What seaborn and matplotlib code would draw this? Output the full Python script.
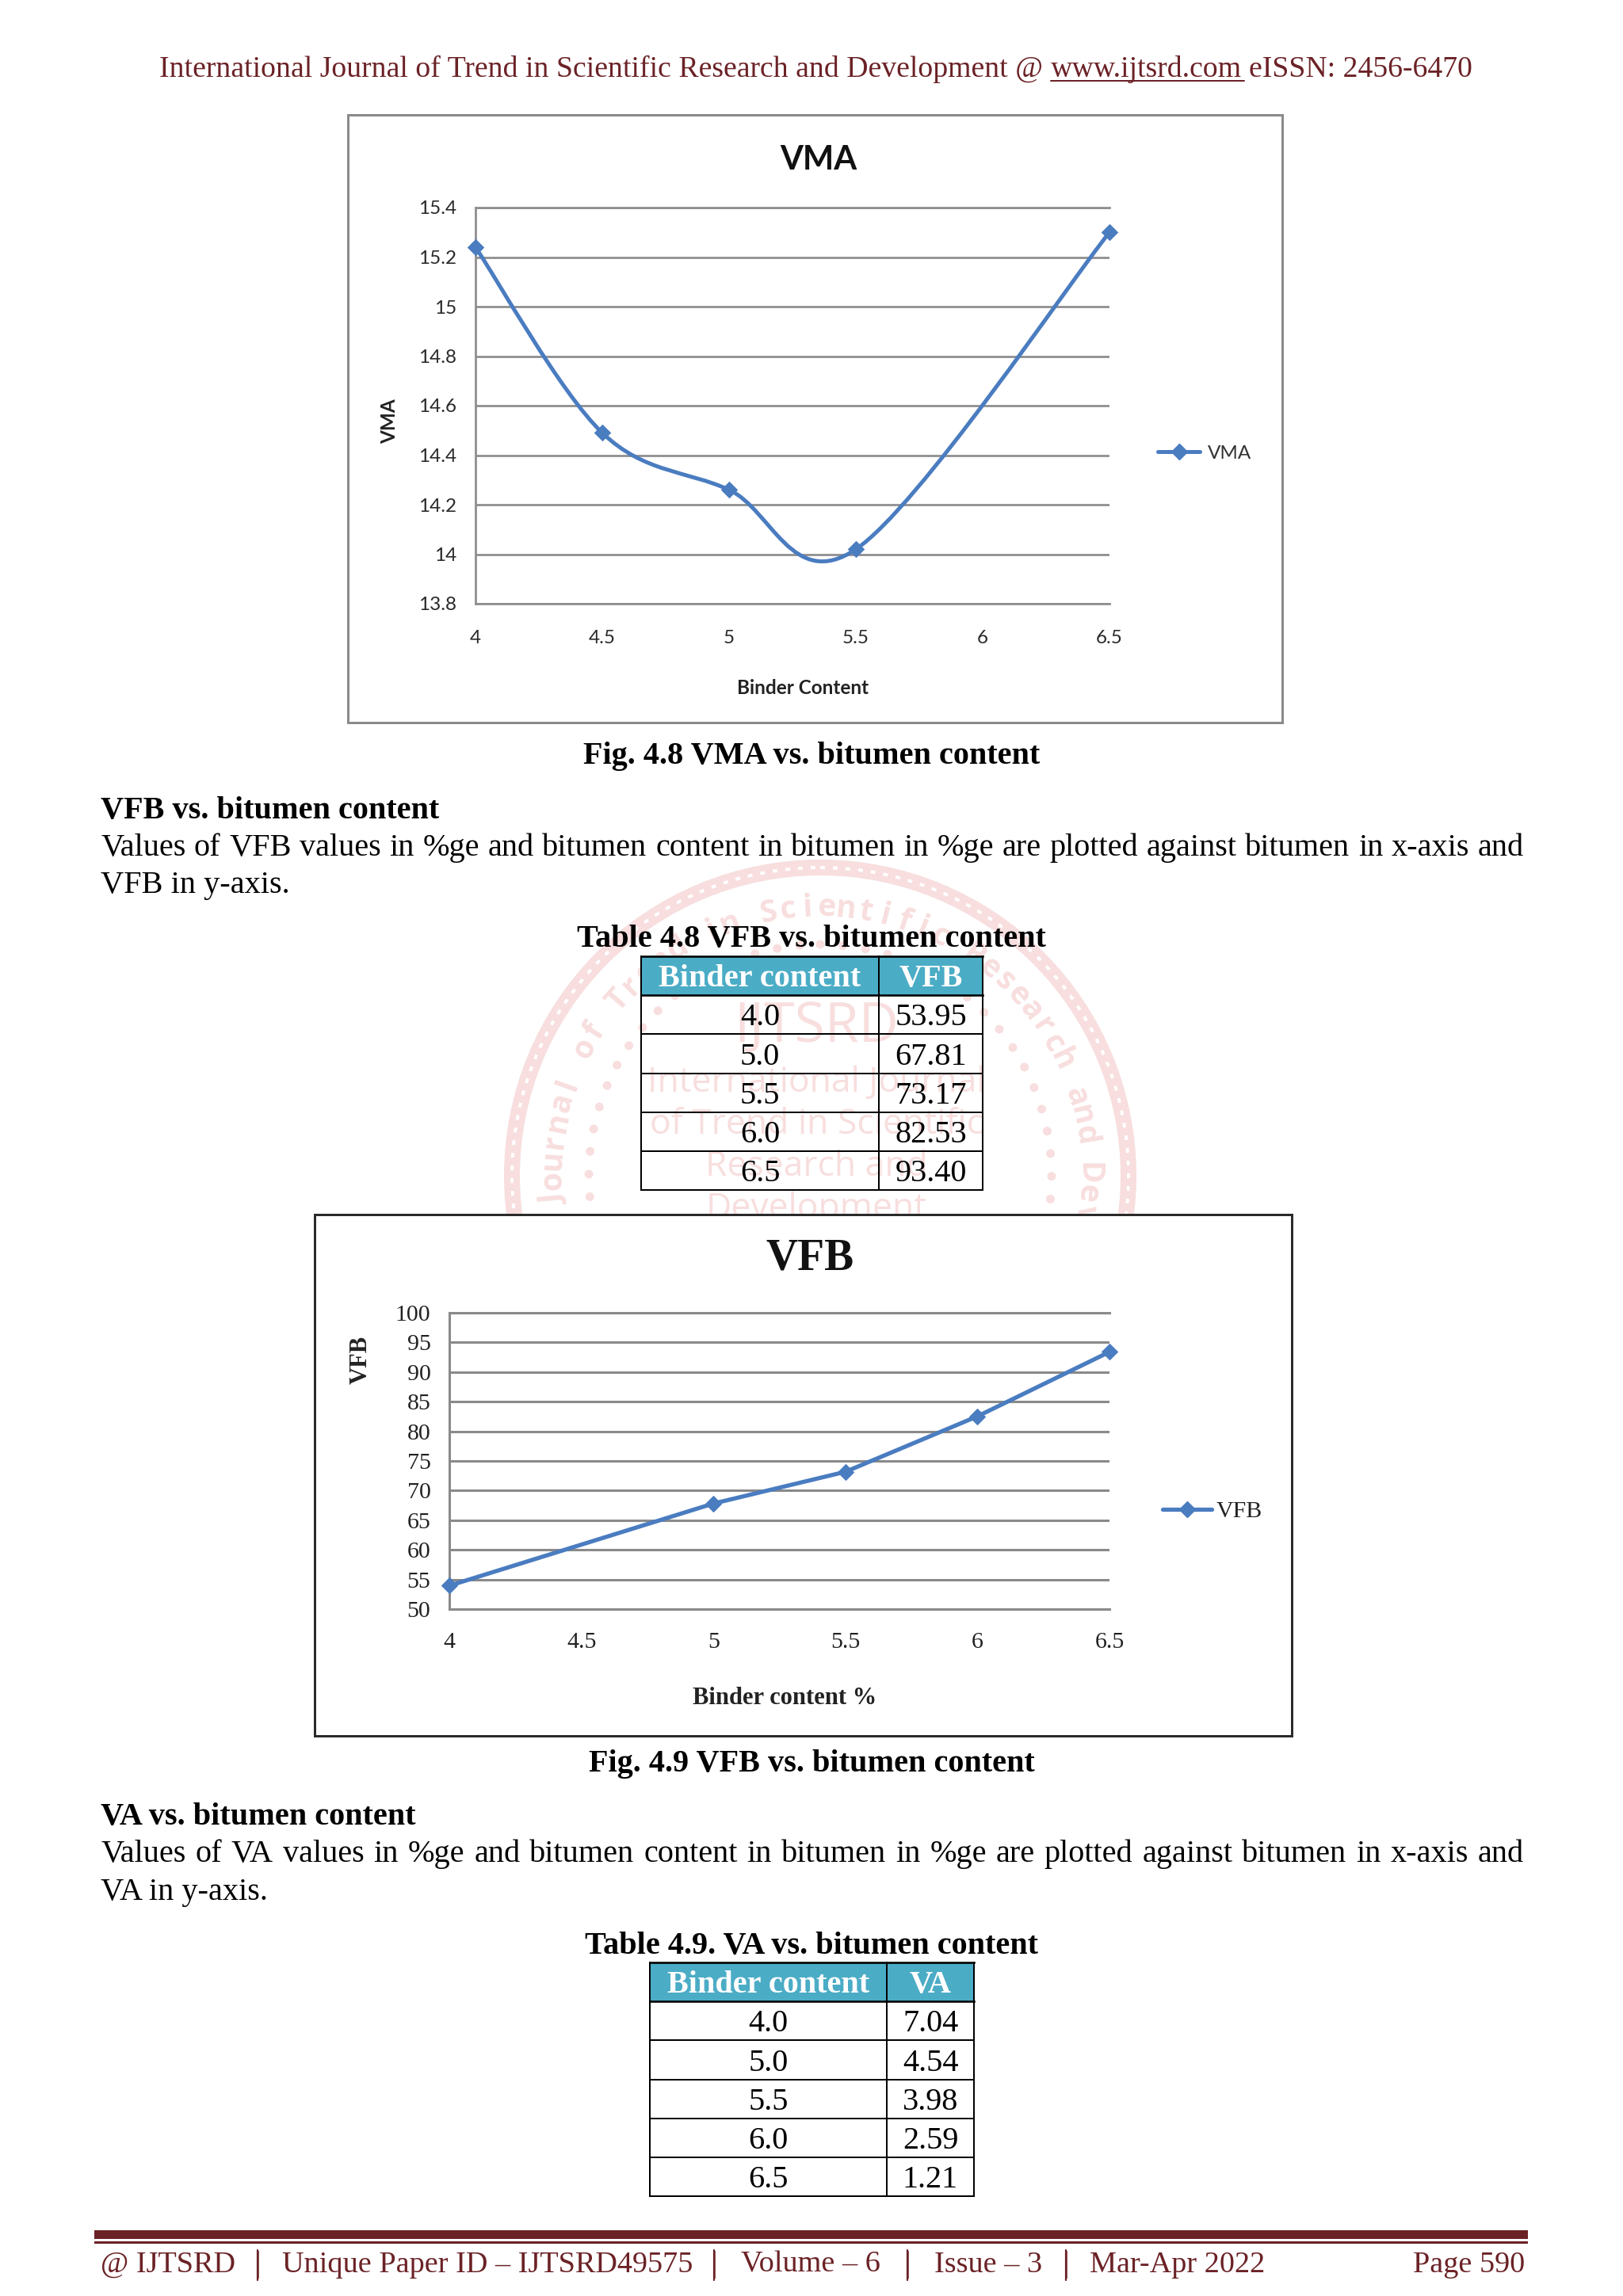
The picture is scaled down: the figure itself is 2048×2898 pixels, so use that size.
import numpy as np
import pandas as pd
import matplotlib
matplotlib.use("Agg")
import matplotlib.pyplot as plt
import seaborn as sns
from matplotlib.path import Path
from matplotlib.patches import PathPatch, Rectangle, Circle
from matplotlib.lines import Line2D

# ---------------- data ----------------
vma_binder = [4.0, 4.5, 5.0, 5.5, 6.5]
vma_values = [15.24, 14.49, 14.26, 14.02, 15.30]
vma_yticks = [13.8, 14.0, 14.2, 14.4, 14.6, 14.8, 15.0, 15.2, 15.4]
vma_ytick_labels = ["13.8", "14", "14.2", "14.4", "14.6", "14.8", "15", "15.2", "15.4"]

vfb_binder = [4.0, 5.0, 5.5, 6.0, 6.5]
vfb_values = [53.95, 67.81, 73.17, 82.53, 93.40]
vfb_yticks = [50, 55, 60, 65, 70, 75, 80, 85, 90, 95, 100]
vfb_ytick_labels = ["50", "55", "60", "65", "70", "75", "80", "85", "90", "95", "100"]

x_ticks = [4, 4.5, 5, 5.5, 6, 6.5]
x_tick_labels = ["4", "4.5", "5", "5.5", "6", "6.5"]

table_binder = ["4.0", "5.0", "5.5", "6.0", "6.5"]
table_vfb = ["53.95", "67.81", "73.17", "82.53", "93.40"]
table_va = ["7.04", "4.54", "3.98", "2.59", "1.21"]

# ---------------- setup ----------------
sns.set_theme(style="white")
plt.rcParams['font.family'] = ['Liberation Serif', 'DejaVu Sans']
W, H = 2048, 2898
PT = 0.72
fig = plt.figure(figsize=(W / 100, H / 100), dpi=100)
fig.patch.set_facecolor('white')
bg = fig.add_axes([0, 0, 1, 1], zorder=-10)
bg.set_xlim(0, W)
bg.set_ylim(H, 0)
bg.axis('off')

MAROON = '#6b2226'
BLUE = '#4a7cc0'
SERIF = 'Liberation Serif'


def px_axes(l, t, r, b):
    return fig.add_axes([l / W, 1 - b / H, (r - l) / W, (b - t) / H])


# ---------------- watermark ----------------
wm = '#f8dede'
cx, cy, R = 1035, 1484, 389
bg.add_patch(Circle((cx, cy), R, fill=False, ec=wm, lw=20 * PT, zorder=1))
bg.add_patch(Circle((cx, cy), R, fill=False, ec='white', lw=4 * PT,
                    ls=(0, (1.5, 2.5)), zorder=1.1))
bg.add_patch(Circle((cx, cy), 292, fill=False, ec=wm, lw=11 * PT,
                    ls=(0, (0.01, 2.6)), capstyle='round', zorder=1))
arc_text = "International Journal of Trend in Scientific Research and Development"
start_deg, step_deg, r_txt = 244.0, 4.2, 338
for i, ch in enumerate(arc_text):
    th = np.deg2rad(start_deg - i * step_deg)
    bg.text(cx + r_txt * np.cos(th), cy - r_txt * np.sin(th), ch,
            rotation=np.rad2deg(th) - 90, ha='center', va='center',
            fontsize=28, color=wm, family='Open Sans', weight='bold', zorder=1)
for txt, yy, fs in [("IJTSRD", 1297, 50), ("International Journal", 1367, 32),
                    ("of Trend in Scientific", 1420, 32), ("Research and", 1473, 32),
                    ("Development", 1526, 32)]:
    bg.text(1030, yy, txt, ha='center', va='center', fontsize=fs, color=wm,
            family='Open Sans', zorder=1)

# ---------------- page text ----------------
bg.text(1316, 97, "International Journal of Trend in Scientific Research and Development @",
        fontsize=27.2, color=MAROON, va='baseline', ha='right', family=SERIF, zorder=7)
bg.text(1326, 97, "www.ijtsrd.com", fontsize=27.2, color=MAROON, va='baseline',
        ha='left', family=SERIF, zorder=7)
bg.plot([1326, 1570], [102, 102], color=MAROON, lw=2 * PT, zorder=7)
bg.text(1576, 97, "eISSN: 2456-6470", fontsize=27.2, color=MAROON, va='baseline',
        ha='left', family=SERIF, zorder=7)

fig.canvas.draw()
renderer = fig.canvas.get_renderer()


def justified(line, x0, x1, y, **kw):
    words = line.split(' ')
    texts = [bg.text(x0, y, w, va='baseline', ha='left', zorder=7, **kw) for w in words]
    widths = [t.get_window_extent(renderer).width for t in texts]
    gap = (x1 - x0 - sum(widths)) / (len(words) - 1)
    x = x0
    for t, w in zip(texts, widths):
        t.set_x(x)
        x += w + gap


def line_text(x, y, s, ha='left', bold=False, size=29, color='black'):
    bg.text(x, y, s, ha=ha, va='baseline', fontsize=size, color=color,
            weight='bold' if bold else 'normal', family=SERIF, zorder=7)


line_text(1024, 964, "Fig. 4.8 VMA vs. bitumen content", ha='center', bold=True)
line_text(127, 1033, "VFB vs. bitumen content", bold=True)
justified("Values of VFB values in %ge and bitumen content in bitumen in %ge are plotted against bitumen in x-axis and",
          127, 1923, 1080, fontsize=29, family=SERIF, color='black')
line_text(127, 1127, "VFB in y-axis.")
line_text(1024, 1195, "Table 4.8 VFB vs. bitumen content", ha='center', bold=True)

line_text(1024, 2236, "Fig. 4.9 VFB vs. bitumen content", ha='center', bold=True)
line_text(127, 2303, "VA vs. bitumen content", bold=True)
justified("Values of VA values in %ge and bitumen content in bitumen in %ge are plotted against bitumen in x-axis and",
          127, 1923, 2350, fontsize=29, family=SERIF, color='black')
line_text(127, 2398, "VA in y-axis.")
line_text(1024, 2466, "Table 4.9. VA vs. bitumen content", ha='center', bold=True)

# footer
bg.add_patch(Rectangle((119, 2815), 1928 - 119, 11, fc=MAROON, ec='none', zorder=7))
bg.add_patch(Rectangle((119, 2829), 1928 - 119, 2.5, fc=MAROON, ec='none', zorder=7))
for x, s, ha in [(127, "@ IJTSRD", 'left'), (325, "|", 'center'),
                 (356, "Unique Paper ID \u2013 IJTSRD49575", 'left'), (901, "|", 'center'),
                 (935, "Volume \u2013 6", 'left'), (1145, "|", 'center'),
                 (1179, "Issue \u2013 3", 'left'), (1345, "|", 'center'),
                 (1375, "Mar-Apr 2022", 'left'), (1924, "Page 590", 'right')]:
    line_text(x, 2868, s, ha=ha, size=27.5, color=MAROON)
for x in (325, 901, 1145, 1345):
    bg.plot([x, x], [2840, 2878], color=MAROON, lw=2.2 * PT, zorder=7)


# ---------------- tables ----------------
def draw_table(xl, xm, xr, top, row_h, headers, col1, col2):
    n = len(col1)
    ys = [top + i * row_h for i in range(n + 2)]
    bg.add_patch(Rectangle((xl, ys[0]), xr - xl, ys[1] - ys[0], fc='#4bacc6',
                           ec='none', zorder=6))
    for i, y in enumerate(ys):
        bg.plot([xl, xr], [y, y], color='black', lw=(2.6 if i in (0, 1) else 2) * PT,
                zorder=7, solid_capstyle='projecting')
    for x in (xl, xm, xr):
        bg.plot([x, x], [ys[0], ys[-1]], color='black', lw=2 * PT, zorder=7,
                solid_capstyle='projecting')
    bg.text((xl + xm) / 2, ys[1] - 11, headers[0], ha='center', va='baseline',
            fontsize=29, color='white', weight='bold', family=SERIF, zorder=8)
    bg.text((xm + xr) / 2, ys[1] - 11, headers[1], ha='center', va='baseline',
            fontsize=29, color='white', weight='bold', family=SERIF, zorder=8)
    for i in range(n):
        yb = ys[i + 2] - 11
        bg.text((xl + xm) / 2, yb, col1[i], ha='center', va='baseline', fontsize=29,
                color='black', family=SERIF, zorder=8)
        bg.text((xm + xr) / 2, yb, col2[i], ha='center', va='baseline', fontsize=29,
                color='black', family=SERIF, zorder=8)


draw_table(809, 1109, 1240, 1207, 49.2, ["Binder content", "VFB"], table_binder, table_vfb)
draw_table(820, 1119, 1229, 2477, 49.2, ["Binder content", "VA"], table_binder, table_va)

# ---------------- chart boxes ----------------
bg.add_patch(Rectangle((439, 145), 1618 - 439, 912 - 145, fc='white', ec='#8a8a8a',
                       lw=3 * PT, zorder=5))
bg.add_patch(Rectangle((397, 1533), 1630 - 397, 2191 - 1533, fc='white', ec='#2b2b2b',
                       lw=3 * PT, zorder=5))


def smooth_path(xs, ys):
    P = np.column_stack([xs, ys]).astype(float)
    n = len(P)
    verts = [P[0]]
    codes = [Path.MOVETO]
    for i in range(n - 1):
        p0 = P[i - 1] if i > 0 else P[i]
        p1, p2 = P[i], P[i + 1]
        p3 = P[i + 2] if i + 2 < n else P[i + 1]
        verts += [p1 + (p2 - p0) / 6, p2 - (p3 - p1) / 6, p2]
        codes += [Path.CURVE4] * 3
    return Path(verts, codes)


def style_axes(ax, grid_color, lw):
    ax.set_facecolor('white')
    ax.yaxis.grid(True, color=grid_color, lw=lw)
    ax.xaxis.grid(False)
    for side in ('left', 'top', 'bottom'):
        ax.spines[side].set_visible(True)
        ax.spines[side].set_color(grid_color)
        ax.spines[side].set_linewidth(lw)
    ax.spines['right'].set_visible(False)


# ---------------- chart 1: VMA ----------------
ax1 = px_axes(600, 262, 1400, 762)
style_axes(ax1, '#8f8f8f', 2.0)
df1 = pd.DataFrame({'Binder Content': vma_binder, 'VMA': vma_values})
ax1.add_patch(PathPatch(smooth_path(df1['Binder Content'], df1['VMA']), fill=False,
                        ec=BLUE, lw=3.6, zorder=3, clip_on=False))
sns.scatterplot(data=df1, x='Binder Content', y='VMA', ax=ax1, marker='D', s=120,
                color=BLUE, edgecolor=BLUE, linewidth=0, zorder=4, clip_on=False)
ax1.set_xlim(4, 6.5)
ax1.set_ylim(13.8, 15.4)
ax1.set_xticks(x_ticks, labels=x_tick_labels, fontfamily='Lato', fontsize=17.5, color='#2a2a2a')
ax1.set_yticks(vma_yticks, labels=vma_ytick_labels, fontfamily='Lato', fontsize=17.5, color='#2a2a2a')
ax1.tick_params(axis='both', length=0)
ax1.tick_params(axis='y', pad=17)
ax1.tick_params(axis='x', pad=24)
ax1.set_xlabel('Binder Content', fontfamily='Lato', fontsize=17.5, weight='bold', color='#222222')
ax1.set_ylabel('VMA', fontfamily='Lato', fontsize=17.5, weight='bold', color='#222222')
ax1.xaxis.set_label_coords(0.516, -0.214)
ax1.xaxis.label.set_va('center')
ax1.yaxis.set_label_coords(-0.135, 0.46)
ax1.yaxis.label.set_va('center')
ax1.text(0.541, 1.12, 'VMA', transform=ax1.transAxes, ha='center', va='center',
         fontfamily='Lato', fontsize=30, weight='bold', color='#111111')
h1 = Line2D([], [], color=BLUE, lw=3.6, marker='D', ms=10, mec=BLUE)
ax1.legend([h1], ['VMA'], loc='center left', bbox_to_anchor=(1461 / W, 1 - 572 / H),
           bbox_transform=fig.transFigure, frameon=False, borderpad=0, borderaxespad=0,
           handlelength=2.2, handletextpad=0.4, labelcolor='#333333',
           prop={'family': 'Lato', 'size': 17.5})

# ---------------- chart 2: VFB ----------------
ax2 = px_axes(567, 1657, 1400, 2031)
style_axes(ax2, '#8a8a8a', 2.2)
df2 = pd.DataFrame({'Binder content %': vfb_binder, 'VFB': vfb_values})
sns.lineplot(data=df2, x='Binder content %', y='VFB', ax=ax2, color=BLUE, lw=3.8,
             marker='D', markersize=10.5, markeredgecolor=BLUE, zorder=4, clip_on=False)
ax2.set_xlim(4, 6.5)
ax2.set_ylim(50, 100)
ax2.set_xticks(x_ticks, labels=x_tick_labels, fontfamily=SERIF, fontsize=21.5, color='#222222')
ax2.set_yticks(vfb_yticks, labels=vfb_ytick_labels, fontfamily=SERIF, fontsize=21.5, color='#222222')
ax2.tick_params(axis='both', length=0)
ax2.tick_params(axis='y', pad=17)
ax2.tick_params(axis='x', pad=21)
ax2.set_xlabel('Binder content %', fontfamily=SERIF, fontsize=22, weight='bold', color='#222222')
ax2.set_ylabel('VFB', fontfamily=SERIF, fontsize=22, weight='bold', color='#222222')
ax2.xaxis.set_label_coords(0.508, -0.30)
ax2.xaxis.label.set_va('center')
ax2.yaxis.set_label_coords(-0.134, 0.84)
ax2.yaxis.label.set_va('center')
ax2.text(0.546, 1.184, 'VFB', transform=ax2.transAxes, ha='center', va='center',
         fontfamily=SERIF, fontsize=40, weight='bold', color='#111111')
h2 = Line2D([], [], color=BLUE, lw=3.8, marker='D', ms=10.5, mec=BLUE)
ax2.legend([h2], ['VFB'], loc='center left', bbox_to_anchor=(1467 / W, 1 - 1908 / H),
           bbox_transform=fig.transFigure, frameon=False, borderpad=0, borderaxespad=0,
           handlelength=2.06, handletextpad=0.2, labelcolor='#222222',
           prop={'family': SERIF, 'size': 21.5})

fig.savefig('out.png', dpi=100, facecolor='white')
